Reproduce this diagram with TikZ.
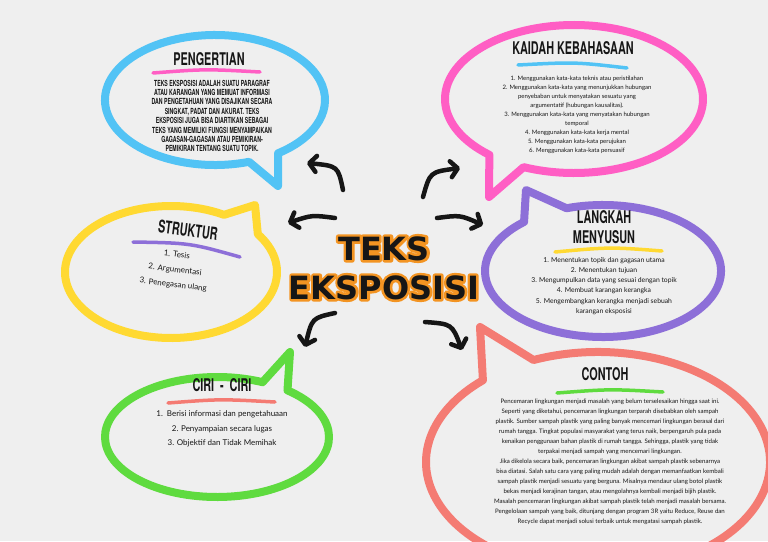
\documentclass[tikz,border=0pt]{standalone}
\usepackage{fontspec}
\usetikzlibrary{arrows.meta}
\setmainfont{Lato}
\newfontfamily\handfont[FakeStretch=0.62]{TeX Gyre Heros}
\newfontfamily\bigfont{DejaVu Sans}
\definecolor{paper}{HTML}{EFEFEF}
\definecolor{ink}{HTML}{161616}
\definecolor{skyblue}{HTML}{52C3F5}
\definecolor{hotpink}{HTML}{FF5EC4}
\definecolor{sunny}{HTML}{FFD932}
\definecolor{lilac}{HTML}{8D6FD8}
\definecolor{grass}{HTML}{5FDB3F}
\definecolor{salmon}{HTML}{F47B73}
\definecolor{outline}{HTML}{F39422}
% orange edge round the big letters (fill + stroke text)
\newcommand{\edgeon}{\special{pdf:literal direct 0.953 0.580 0.133 RG 5 w 1 j 2 Tr}}
\newcommand{\edgeoff}{\special{pdf:literal direct 0 Tr}}
\tikzset{
  bubble/.style={line width=8pt, line join=round, line cap=round},
  underline/.style={line width=3.5pt, line cap=round},
  arrowline/.style={ink, line width=4.5pt, line cap=round,
    -{Straight Barb[length=7pt, width=16pt, line cap=round, line join=round]}},
  headtext/.style={ink, inner sep=0pt, font=\handfont\bfseries\fontsize{17.5}{20}\selectfont, align=center},
  capstext/.style={ink, inner sep=0pt, font=\handfont\bfseries\fontsize{8.4}{9.4}\selectfont, align=center},
  bodytext/.style={ink, inner sep=0pt, align=center},
  titletext/.style={ink, inner sep=0pt, font=\bigfont\bfseries\fontsize{32}{39}\selectfont, align=center}
}
\begin{document}
\begin{tikzpicture}[x=1pt, y=-1pt]
    \useasboundingbox (0,0) rectangle (768,541);
    \clip (0,0) rectangle (768,541);
    \fill[paper] (0,0) rectangle (768,541);
    % bubbles
    \draw[bubble, skyblue] (215,100) ++(72:110 and 65) arc[start angle=72, end angle=415, x radius=110, y radius=65] -- (278,186) -- cycle;
    \draw[bubble, hotpink] (574,99) ++(131:129 and 74) arc[start angle=131, end angle=473, x radius=129, y radius=74] -- (489,197) -- cycle;
    \draw[bubble, sunny] (171,272) ++(-35:106 and 66) arc[start angle=-35, end angle=300, x radius=106, y radius=66] -- (255,205) -- cycle;
    \draw[bubble, lilac] (603,271) ++(-108:118 and 66) arc[start angle=-108, end angle=228, x radius=118, y radius=66] -- (526,190) -- cycle;
    \draw[bubble, grass] (217,437) ++(-51:112 and 60) arc[start angle=-51, end angle=294, x radius=112, y radius=60] -- (290,352) -- cycle;
    \draw[bubble, salmon] (598,462) ++(-112:172 and 110) arc[start angle=-112, end angle=228, x radius=172, y radius=110] -- (480,327) -- cycle;
    % pengertian
    \node[headtext] (peng) at (209,59) {PENGERTIAN};
    \draw[underline, hotpink] (153,73) .. controls (205,69) .. (260,72);
    \node[capstext] (pengbody) at (212,116) {TEKS EKSPOSISI ADALAH SUATU PARAGRAF\\ATAU KARANGAN YANG MEMUAT INFORMASI\\DAN PENGETAHUAN YANG DISAJIKAN SECARA\\SINGKAT, PADAT DAN AKURAT. TEKS\\EKSPOSISI JUGA BISA DIARTIKAN SEBAGAI\\TEKS YANG MEMILIKI FUNGSI MENYAMPAIKAN\\GAGASAN-GAGASAN ATAU PEMIKIRAN-\\PEMIKIRAN TENTANG SUATU TOPIK.};
    % kaidah kebahasaan
    \node[headtext] (kaidah) at (573,48) {KAIDAH KEBAHASAAN};
    \draw[underline, skyblue] (518,65) .. controls (575,62) .. (627,68);
    \node[bodytext, font=\fontsize{6}{9}\selectfont] (kaidahbody) at (577,115) {1. Menggunakan kata-kata teknis atau peristilahan\\2. Menggunakan kata-kata yang menunjukkan hubungan\\penyebaban untuk menyatakan sesuatu yang\\argumentatif (hubungan kausalitas).\\3. Menggunakan kata-kata yang menyatakan hubungan\\temporal\\4. Menggunakan kata-kata kerja mental\\5. Menggunakan kata-kata perujukan\\6. Menggunakan kata-kata persuasif};
    % struktur
    \node[headtext, rotate=-7] (struktur) at (188,230) {STRUKTUR};
    \draw[underline, lilac] (133,242) .. controls (190,243) .. (240,257);
    \node[bodytext, rotate=-7, font=\fontsize{8}{15}\selectfont] (strukturbody) at (175,270) {1. Tesis\\2. Argumentasi\\3. Penegasan ulang};
    % langkah menyusun
    \node[headtext] (langkah) at (604,227) {LANGKAH\\MENYUSUN};
    \draw[underline, sunny] (555,252) .. controls (610,247) .. (662,251);
    \node[bodytext, font=\fontsize{6.8}{10.2}\selectfont] (langkahbody) at (604,286) {1. Menentukan topik dan gagasan utama\\2. Menentukan tujuan\\3. Mengumpulkan data yang sesuai dengan topik\\4. Membuat karangan kerangka\\5. Mengembangkan kerangka menjadi sebuah\\karangan eksposisi};
    % ciri-ciri
    \node[headtext] (ciri) at (222,385) {CIRI \,-\, CIRI};
    \draw[underline, salmon] (168,403) .. controls (220,399) .. (275,402);
    \node[bodytext, font=\fontsize{8}{14.5}\selectfont] (ciribody) at (222,429) {1.\ \ Berisi informasi dan pengetahuaan\\2. Penyampaian secara lugas\\3. Objektif dan Tidak Memihak};
    % contoh
    \node[headtext] (contoh) at (605,374) {CONTOH};
    \draw[underline, grass] (557,393) .. controls (610,389) .. (663,392);
    \node[bodytext, font=\fontsize{6.1}{10}\selectfont] (contohbody) at (610,462) {Pencemaran lingkungan menjadi masalah yang belum terselesaikan hingga saat ini.\\Seperti yang diketahui, pencemaran lingkungan terparah disebabkan oleh sampah\\plastik. Sumber sampah plastik yang paling banyak mencemari lingkungan berasal dari\\rumah tangga. Tingkat populasi masyarakat yang terus naik, berpengaruh pula pada\\kenaikan penggunaan bahan plastik di rumah tangga. Sehingga, plastik yang tidak\\terpakai menjadi sampah yang mencemari lingkungan.\\Jika dikelola secara baik, pencemaran lingkungan akibat sampah plastik sebenarnya\\bisa diatasi. Salah satu cara yang paling mudah adalah dengan memanfaatkan kembali\\sampah plastik menjadi sesuatu yang berguna. Misalnya mendaur ulang botol plastik\\bekas menjadi kerajinan tangan, atau mengolahnya kembali menjadi bijih plastik.\\Masalah pencemaran lingkungan akibat sampah plastik telah menjadi masalah bersama.\\Pengelolaan sampah yang baik, ditunjang dengan program 3R yaitu Reduce, Reuse dan\\Recycle dapat menjadi solusi terbaik untuk mengatasi sampah plastik.};
    % title
    \node[titletext, text=outline] (titleedge) at (384,268) {\edgeon TEKS\edgeoff\\\edgeon EKSPOSISI\edgeoff};
    \node[titletext] (title) at (titleedge) {TEKS\\EKSPOSISI};
    % arrows
    \coordinate (peng-s) at (343,190);    \coordinate (peng-c) at (338,166);    \coordinate (peng-e) at (307,163);
    \coordinate (struktur-s) at (335,218); \coordinate (struktur-c) at (312,215); \coordinate (struktur-e) at (288,223);
    \coordinate (kaidah-s) at (423,197);  \coordinate (kaidah-c) at (430,172);  \coordinate (kaidah-e) at (460,168);
    \coordinate (langkah-s) at (437,218); \coordinate (langkah-c) at (460,215); \coordinate (langkah-e) at (483,225);
    \coordinate (ciri-s) at (335,313);    \coordinate (ciri-c) at (312,318);    \coordinate (ciri-e) at (305,347);
    \coordinate (contoh-s) at (425,322);  \coordinate (contoh-c) at (452,324);  \coordinate (contoh-e) at (462,350);
    \foreach \n in {peng,struktur,kaidah,langkah,ciri,contoh} {
        \draw[arrowline] (\n-s) .. controls (\n-c) .. (\n-e);
    }
\end{tikzpicture}
\end{document}
